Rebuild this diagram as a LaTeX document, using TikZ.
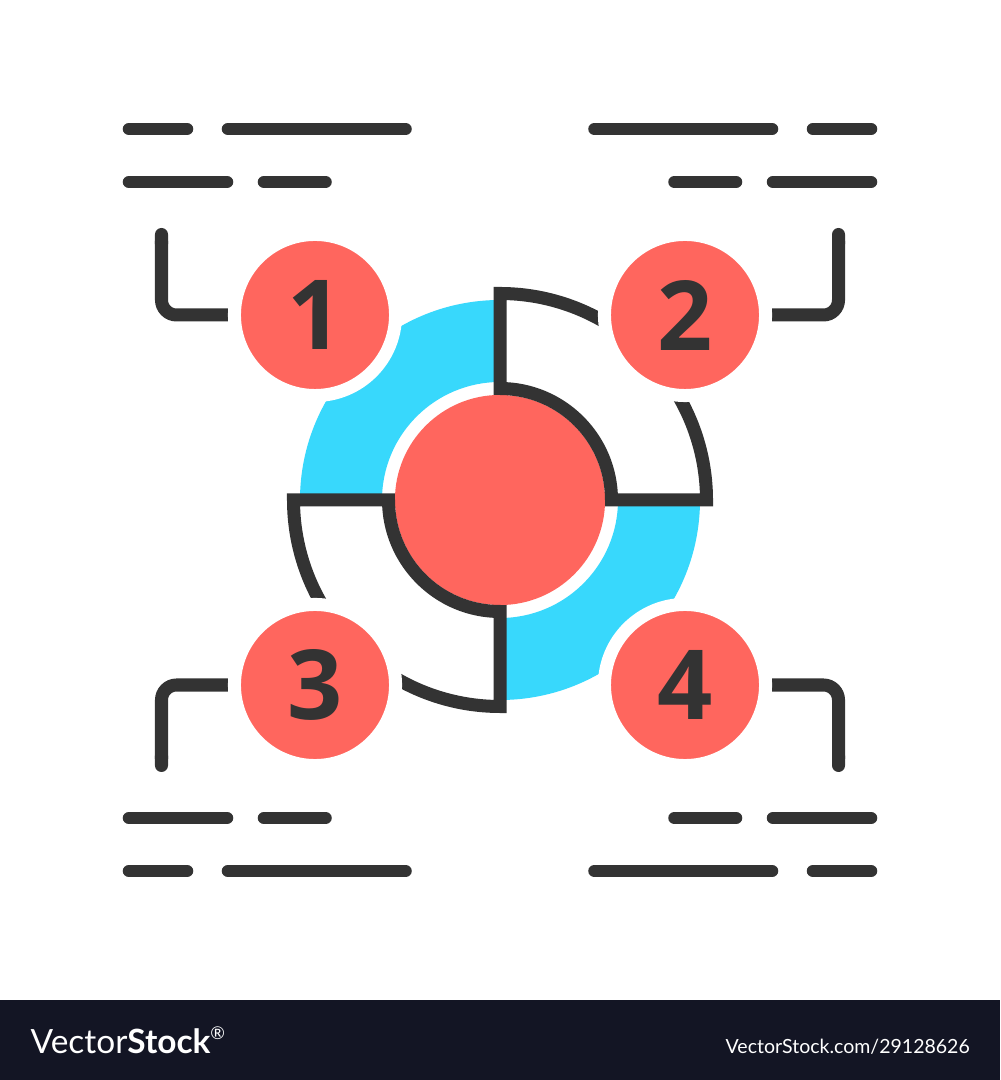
\documentclass[tikz,border=0pt]{standalone}
\usepackage{fontspec}
\usepackage{tikz}
\usetikzlibrary{arrows.meta,backgrounds}
\newfontfamily\numfont{Open Sans}
\newfontfamily\wmfont{Lato}

\definecolor{ink}{HTML}{333333}
\definecolor{coral}{HTML}{FF665E}
\definecolor{sky}{HTML}{38D8FC}
\definecolor{band}{HTML}{131524}

\tikzset{
  ringline/.style={draw=ink, line width=3.7pt, line join=miter},
  bracket/.style={draw=ink, line width=3.7pt, rounded corners=0.15cm, {Round Cap[]}-},
  textbar/.style={draw=ink, line width=3.56pt, line cap=round},
  numball/.style={circle, fill=coral, draw=white, line width=3.7pt, minimum size=1.61cm,
    inner sep=0pt, text=ink, font=\numfont\bfseries\fontsize{27.5}{30}\selectfont}
}

\begin{document}
\begin{tikzpicture}[x=0.01cm, y=0.01cm]
\useasboundingbox (-500,-580) rectangle (500,500);

% Blue ring, two quarters
\fill[sky] (90:200) arc[start angle=90, end angle=180, radius=200]
  -- (180:118) arc[start angle=180, end angle=90, radius=118] -- cycle;
\fill[sky] (270:200) arc[start angle=270, end angle=360, radius=200]
  -- (0:118) arc[start angle=360, end angle=270, radius=118] -- cycle;

% Hub
\node[circle, fill=coral, minimum size=2.1cm, inner sep=0pt] (hub) at (0,0) {};

% Outlined quarters
\draw[ringline] (55:206.5) arc[start angle=55, end angle=90, radius=206.5]
  -- (0,111.5) arc[start angle=90, end angle=0, radius=111.5]
  -- (206.5,0) arc[start angle=0, end angle=35, radius=206.5];
\draw[ringline] (235:206.5) arc[start angle=235, end angle=270, radius=206.5]
  -- (0,-111.5) arc[start angle=270, end angle=180, radius=111.5]
  -- (-206.5,0) arc[start angle=180, end angle=215, radius=206.5];

% Numbered balls
\node[numball] (n1) at (-185,185) {1};
\node[numball] (n2) at (185,185) {2};
\node[numball] (n3) at (-185,-185) {3};
\node[numball] (n4) at (185,-185) {4};

% Brackets, kept under the balls
\coordinate (b1) at (-338.5,272);
\coordinate (b2) at (338.5,272);
\coordinate (b3) at (-338.5,-272);
\coordinate (b4) at (338.5,-272);
\begin{scope}[on background layer]
  \fill[white] (-500,-500) rectangle (500,500);
  \draw[bracket] (b1) -- (b1 |- n1.west) -- (n1.west);
  \draw[bracket] (b2) -- (b2 |- n2.east) -- (n2.east);
  \draw[bracket] (b3) -- (b3 |- n3.west) -- (n3.west);
  \draw[bracket] (b4) -- (b4 |- n4.east) -- (n4.east);
\end{scope}

% Text placeholders, mirrored into the four corners
\foreach \sx/\sy in {1/1,-1/1,1/-1,-1/-1}{
  \begin{scope}[xscale=\sx, yscale=\sy]
    \draw[textbar] (-371,371) -- (-313,371);
    \draw[textbar] (-272,371) -- (-94.5,371);
    \draw[textbar] (-371,318) -- (-273,318);
    \draw[textbar] (-236,318) -- (-174.5,318);
  \end{scope}
}

% Stock banner
\fill[band] (-500,-500) rectangle (500,-580);
\node[anchor=base west, inner sep=0pt, text=white, font=\wmfont\fontsize{9.5}{12}\selectfont]
  (wmleft) at (-470,-553) {Vector\textbf{Stock}\textsuperscript{\tiny\textregistered}};
\node[anchor=base west, inner sep=0pt, text=white, font=\wmfont\fontsize{5.55}{7}\selectfont]
  (wmright) at (225,-553) {VectorStock.com/29128626};
\end{tikzpicture}
\end{document}
